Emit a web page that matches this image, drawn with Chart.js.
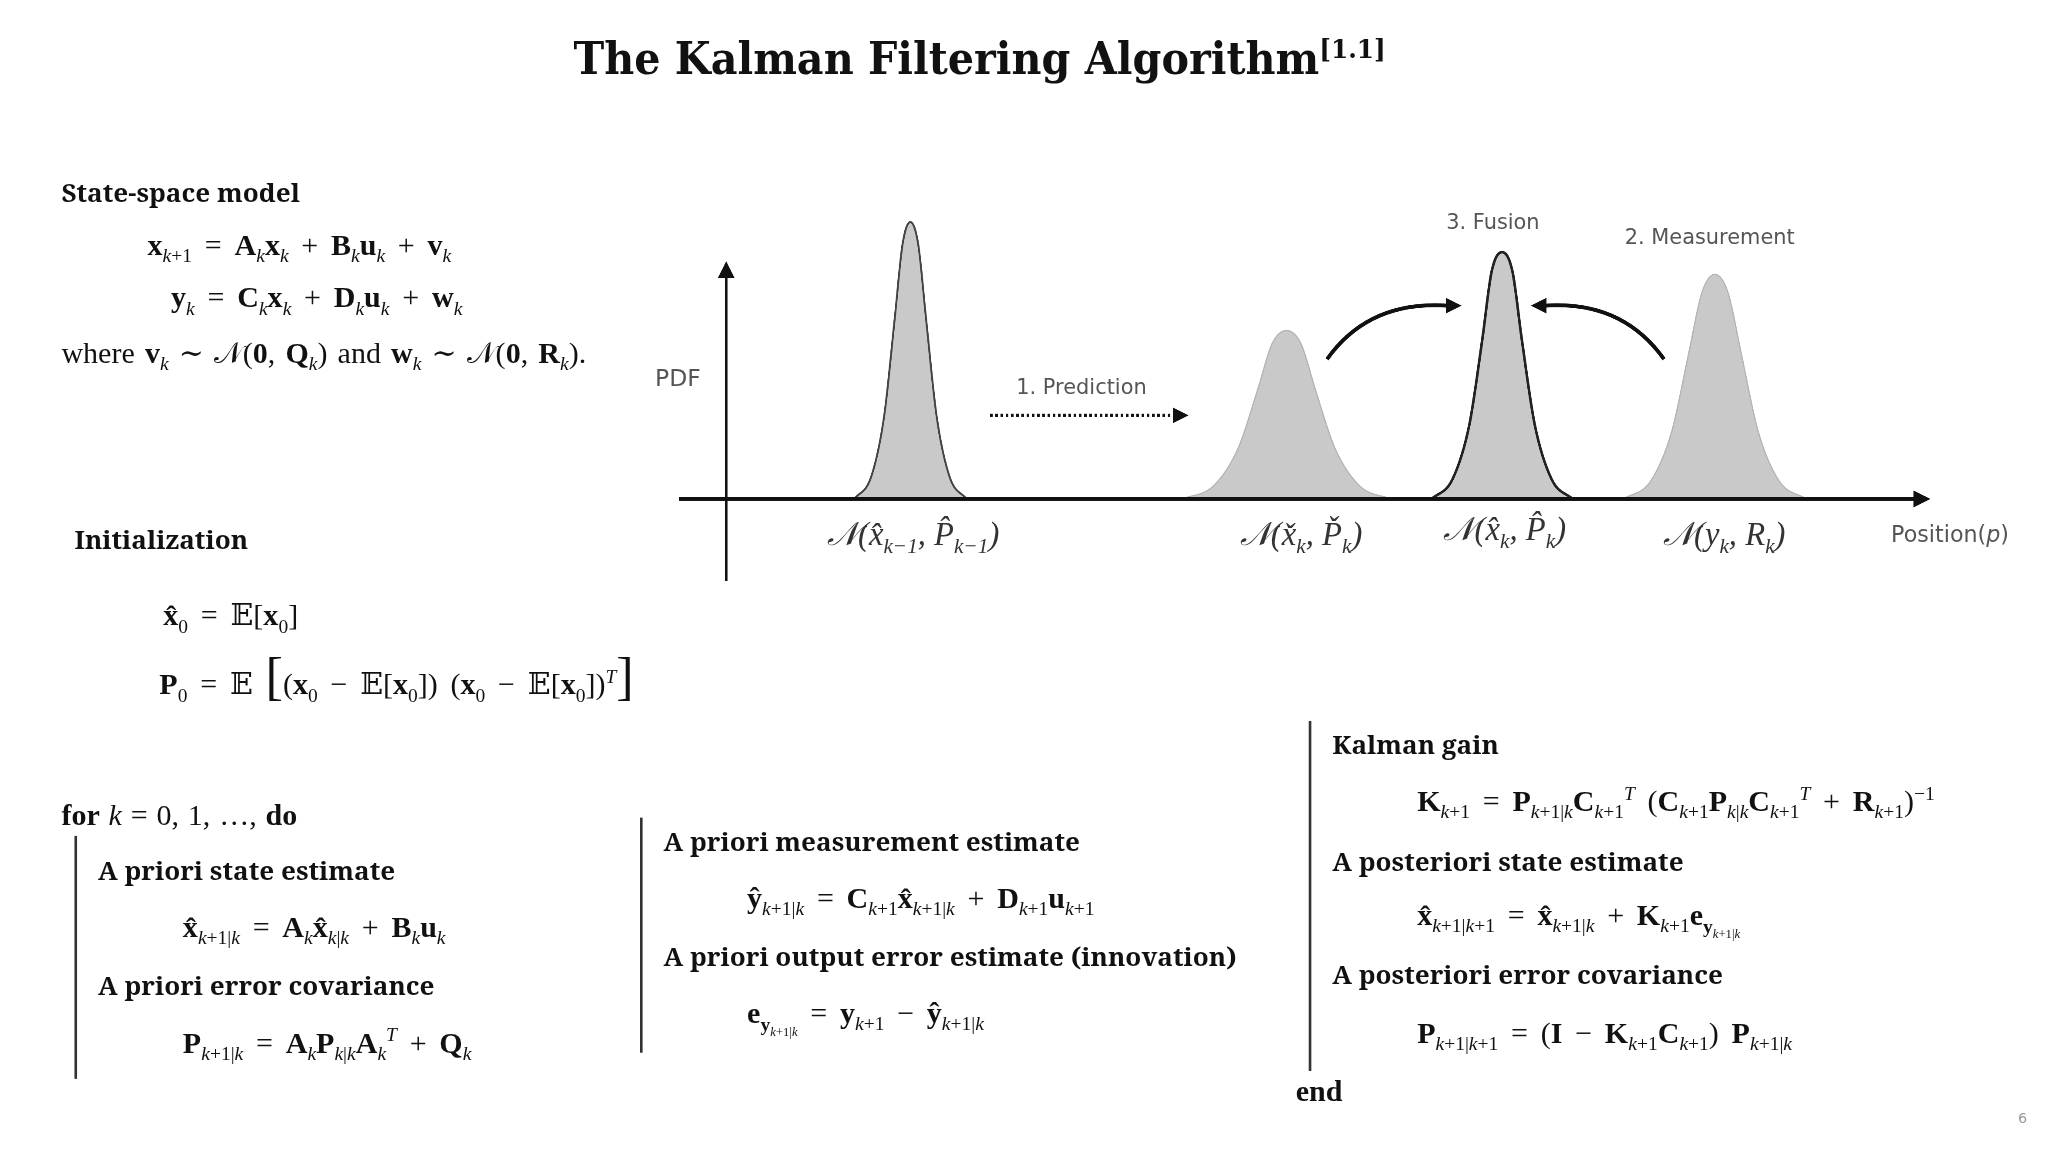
<!DOCTYPE html>
<html><head><meta charset="utf-8">
<script src="https://cdn.jsdelivr.net/npm/chart.js@4/dist/chart.umd.min.js"></script>
<style>
html,body{margin:0;padding:0;background:#fff;width:2048px;height:1152px;overflow:hidden}
#wrap{position:absolute;left:0;top:0;width:1568px;height:882px;transform:scale(1.30612);transform-origin:0 0;font-family:"Liberation Serif","DejaVu Serif",serif;color:#111}
.t{position:absolute;white-space:nowrap;transform:translateY(-50%);font-size:21px}
.e{font-size:23px;word-spacing:4px}
.h{font-weight:bold;font-family:"Noto Serif","DejaVu Serif",serif;font-size:20px;word-spacing:0}
.b{font-weight:bold}
sub,sup{font-size:65%}
.vl{position:absolute;width:1.5px;background:#333}
.lab{position:absolute;white-space:nowrap;transform:translate(-50%,-50%);font-family:"DejaVu Sans",sans-serif;color:#555;font-size:16px}
.nl{position:absolute;white-space:nowrap;transform:translate(-50%,-50%);font-style:italic;font-size:25px;color:#333}
canvas{position:absolute}
</style></head><body>
<div id="wrap">
<div class="t" style="left:0;width:1500px;text-align:center;top:45px;font-size:34px;font-weight:bold;font-family:'DejaVu Serif',serif;transform:translateY(-50%) scaleX(0.93)">The Kalman Filtering Algorithm<sup style="font-size:60%">[1.1]</sup></div>

<div class="t h" style="left:47px;top:147px">State-space model</div>
<div class="t e" style="left:113px;top:190px"><b>x</b><sub><i>k</i>+1</sub> = <b>A</b><sub><i>k</i></sub><b>x</b><sub><i>k</i></sub> + <b>B</b><sub><i>k</i></sub><b>u</b><sub><i>k</i></sub> + <b>v</b><sub><i>k</i></sub></div>
<div class="t e" style="left:131px;top:230px"><b>y</b><sub><i>k</i></sub> = <b>C</b><sub><i>k</i></sub><b>x</b><sub><i>k</i></sub> + <b>D</b><sub><i>k</i></sub><b>u</b><sub><i>k</i></sub> + <b>w</b><sub><i>k</i></sub></div>
<div class="t e" style="left:47px;top:272px;word-spacing:2px">where <b>v</b><sub><i>k</i></sub> ∼ 𝒩(<b>0</b>, <b>Q</b><sub><i>k</i></sub>) and <b>w</b><sub><i>k</i></sub> ∼ 𝒩(<b>0</b>, <b>R</b><sub><i>k</i></sub>).</div>

<div class="t h" style="left:57px;top:413px">Initialization</div>
<div class="t e" style="left:125px;top:473px"><b>x̂</b><sub>0</sub> = 𝔼[<b>x</b><sub>0</sub>]</div>
<div class="t e" style="left:122px;top:518px"><b>P</b><sub>0</sub> = 𝔼 <span style="font-size:40px">[</span>(<b>x</b><sub>0</sub> − 𝔼[<b>x</b><sub>0</sub>]) (<b>x</b><sub>0</sub> − 𝔼[<b>x</b><sub>0</sub>])<sup><i>T</i></sup><span style="font-size:40px">]</span></div>

<div class="t e" style="left:47px;top:625px;word-spacing:1px"><b>for</b> <i>k</i> = 0, 1, …, <b>do</b></div>
<div class="vl" style="left:57px;top:640px;height:186px"></div>
<div class="t h" style="left:75px;top:666px">A priori state estimate</div>
<div class="t e" style="left:140px;top:712px"><b>x̂</b><sub><i>k</i>+1|<i>k</i></sub> = <b>A</b><sub><i>k</i></sub><b>x̂</b><sub><i>k</i>|<i>k</i></sub> + <b>B</b><sub><i>k</i></sub><b>u</b><sub><i>k</i></sub></div>
<div class="t h" style="left:75px;top:754px">A priori error covariance</div>
<div class="t e" style="left:140px;top:800px"><b>P</b><sub><i>k</i>+1|<i>k</i></sub> = <b>A</b><sub><i>k</i></sub><b>P</b><sub><i>k</i>|<i>k</i></sub><b>A</b><sub><i>k</i></sub><sup><i>T</i></sup> + <b>Q</b><sub><i>k</i></sub></div>

<div class="vl" style="left:490px;top:626px;height:180px"></div>
<div class="t h" style="left:508px;top:644px">A priori measurement estimate</div>
<div class="t e" style="left:572px;top:690px"><b>ŷ</b><sub><i>k</i>+1|<i>k</i></sub> = <b>C</b><sub><i>k</i>+1</sub><b>x̂</b><sub><i>k</i>+1|<i>k</i></sub> + <b>D</b><sub><i>k</i>+1</sub><b>u</b><sub><i>k</i>+1</sub></div>
<div class="t h" style="left:508px;top:732px">A priori output error estimate (innovation)</div>
<div class="t e" style="left:572px;top:779px"><b>e</b><sub><b>y</b><sub><i>k</i>+1|<i>k</i></sub></sub> = <b>y</b><sub><i>k</i>+1</sub> − <b>ŷ</b><sub><i>k</i>+1|<i>k</i></sub></div>

<div class="vl" style="left:1002px;top:552px;height:268px"></div>
<div class="t h" style="left:1020px;top:570px">Kalman gain</div>
<div class="t e" style="left:1085px;top:615px"><b>K</b><sub><i>k</i>+1</sub> = <b>P</b><sub><i>k</i>+1|<i>k</i></sub><b>C</b><sub><i>k</i>+1</sub><sup><i>T</i></sup> (<b>C</b><sub><i>k</i>+1</sub><b>P</b><sub><i>k</i>|<i>k</i></sub><b>C</b><sub><i>k</i>+1</sub><sup><i>T</i></sup> + <b>R</b><sub><i>k</i>+1</sub>)<sup>−1</sup></div>
<div class="t h" style="left:1020px;top:659px">A posteriori state estimate</div>
<div class="t e" style="left:1085px;top:704px"><b>x̂</b><sub><i>k</i>+1|<i>k</i>+1</sub> = <b>x̂</b><sub><i>k</i>+1|<i>k</i></sub> + <b>K</b><sub><i>k</i>+1</sub><b>e</b><sub><b>y</b><sub><i>k</i>+1|<i>k</i></sub></sub></div>
<div class="t h" style="left:1020px;top:746px">A posteriori error covariance</div>
<div class="t e" style="left:1085px;top:793px"><b>P</b><sub><i>k</i>+1|<i>k</i>+1</sub> = (<b>I</b> − <b>K</b><sub><i>k</i>+1</sub><b>C</b><sub><i>k</i>+1</sub>) <b>P</b><sub><i>k</i>+1|<i>k</i></sub></div>
<div class="t e" style="left:992px;top:836px"><b>end</b></div>
<div class="t" style="left:1545px;top:856px;font-size:11px;color:#999;font-family:'DejaVu Sans',sans-serif">6</div>

<canvas id="c"></canvas>

<div class="lab" style="left:519px;top:289px;font-size:18px">PDF</div>
<div class="lab" style="left:828px;top:296px">1. Prediction</div>
<div class="lab" style="left:1143px;top:170px">3. Fusion</div>
<div class="lab" style="left:1309px;top:181px">2. Measurement</div>
<div class="lab" style="left:1493px;top:409px;font-size:17px">Position(<i>p</i>)</div>
<div class="nl" style="left:699px;top:412px">𝒩(<i>x̂</i><sub>k−1</sub>, <i>P̂</i><sub>k−1</sub>)</div>
<div class="nl" style="left:996px;top:412px">𝒩(<i>x̌</i><sub>k</sub>, <i>P̌</i><sub>k</sub>)</div>
<div class="nl" style="left:1152px;top:408px">𝒩(<i>x̂</i><sub>k</sub>, <i>P̂</i><sub>k</sub>)</div>
<div class="nl" style="left:1320px;top:412px">𝒩(<i>y</i><sub>k</sub>, <i>R</i><sub>k</sub>)</div>
</div>
<script>
// Curves (x = position units, y = PDF units)
const prevX = [154,167,177,185,191,197,203,209,217,227,240];
const prevY = [0,17,64,138,195,212,195,138,64,17,0];
const predX = [405,429,448,463,474,485,496,507,522,541,565];
const predY = [0,10,39,84,119,129,119,84,39,10,0];
const fuseX = [596,612,625,635,642,650,658,665,675,688,704];
const fuseY = [0,15,57,123,174,189,174,123,57,15,0];
const measX = [743,764,780,793,803,813,823,833,846,862,883];
const measY = [0,14,52,112,158,172,158,112,52,14,0];

const cv = document.getElementById('c');
cv.style.left='500px'; cv.style.top='140px'; cv.style.width='1060px'; cv.style.height='320px';
const pts=(xs,ys)=>xs.map((x,i)=>({x,y:ys[i]}));
const ds=(xs,ys,border,bw)=>({data:pts(xs,ys),fill:'origin',backgroundColor:'#c9c9c9',borderColor:border,borderWidth:bw,pointRadius:0,tension:0.4,cubicInterpolationMode:'monotone'});

const deco={id:'deco',afterDatasetsDraw(ch){
  const c=ch.ctx,X=v=>ch.scales.x.getPixelForValue(v),Y=v=>ch.scales.y.getPixelForValue(v);
  c.save();c.strokeStyle='#111';c.fillStyle='#111';
  const head=(x,y,ang,s)=>{c.save();c.translate(x,y);c.rotate(ang);c.beginPath();c.moveTo(0,0);c.lineTo(-s,-s*0.5);c.lineTo(-s,s*0.5);c.closePath();c.fill();c.restore();};
  c.lineWidth=3;c.beginPath();c.moveTo(X(20),Y(0));c.lineTo(X(966),Y(0));c.stroke();head(X(978),Y(0),0,13);
  c.lineWidth=2;c.beginPath();c.moveTo(X(56),Y(-63));c.lineTo(X(56),Y(170));c.stroke();head(X(56),Y(182),-Math.PI/2,13);
  c.lineWidth=2.5;c.setLineDash([2,2]);c.beginPath();c.moveTo(X(258),Y(64));c.lineTo(X(398),Y(64));c.stroke();c.setLineDash([]);head(X(410),Y(64),0,12);
  c.lineWidth=3;
  c.beginPath();c.moveTo(X(516),Y(107));c.quadraticCurveTo(X(548),Y(152),X(608),Y(148));c.stroke();head(X(619),Y(148),0,12);
  c.beginPath();c.moveTo(X(774),Y(107));c.quadraticCurveTo(X(742),Y(152),X(683),Y(148));c.stroke();head(X(672),Y(148),Math.PI,12);
  c.restore();
}};
new Chart(cv,{type:'scatter',
 data:{datasets:[ds(prevX,prevY,'#444',1.5),ds(predX,predY,'#b5b5b5',1),ds(measX,measY,'#b5b5b5',1),ds(fuseX,fuseY,'#222',2)]},
 options:{showLine:true,responsive:false,animation:false,devicePixelRatio:3,
  layout:{padding:0},
  plugins:{legend:{display:false},tooltip:{enabled:false}},
  scales:{x:{type:'linear',min:0,max:1060,display:false},y:{min:-78,max:242,display:false}}},
 plugins:[deco]});
</script>
</body></html>
